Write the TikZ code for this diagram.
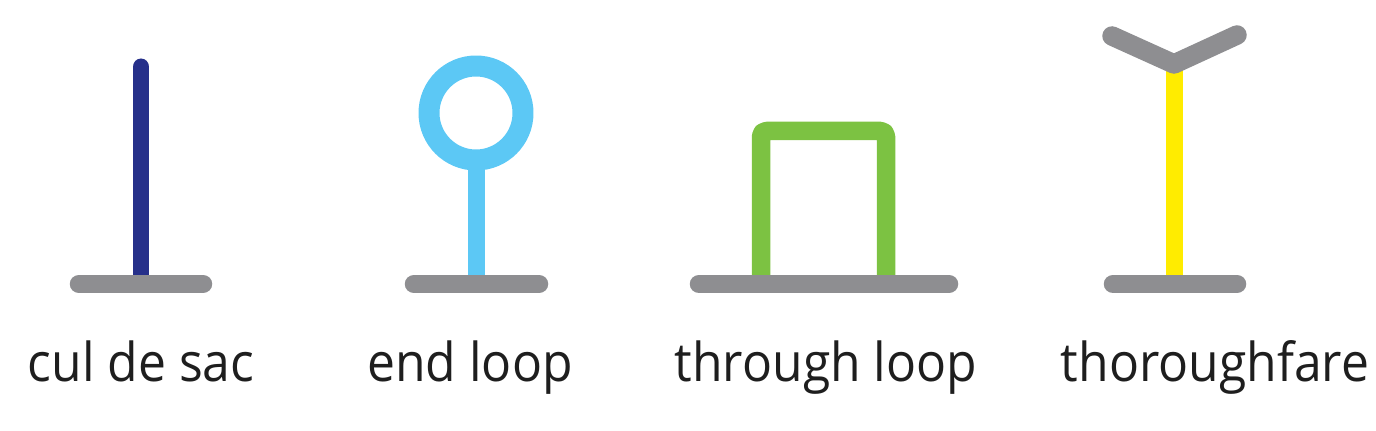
\documentclass[tikz,border=0pt]{standalone}
\usepackage{fontspec}
\setmainfont{Open Sans}[FakeStretch=0.93]
\usetikzlibrary{positioning}
\definecolor{roadgray}{RGB}{142,142,145}
\definecolor{sacblue}{RGB}{38,48,138}
\definecolor{loopblue}{RGB}{92,200,245}
\definecolor{loopgreen}{RGB}{124,194,66}
\definecolor{fareyellow}{RGB}{255,236,0}
\definecolor{captiongray}{RGB}{30,30,30}

\begin{document}
\begin{tikzpicture}[x=0.02cm,y=-0.02cm,line cap=round,line join=round,
    road/.style={line width=0.37cm,roadgray},
    street/.style={line width=0.34cm},
    caption/.style={anchor=base,inner sep=0pt,text=captiongray,
      font=\fontsize{30.5}{36}\selectfont}]
  \useasboundingbox (0,0) rectangle (1376,431);
  % cul de sac
  \coordinate (sacL) at (79,284);
  \coordinate (sacR) at (203,284);
  \coordinate (sacBase) at (141,284);
  \coordinate (sacTop) at (141,67);
  \draw[street,sacblue] (sacBase) -- (sacTop);
  \draw[road] (sacL) -- (sacR);
  \node[caption] (sac) at (141,382) {cul de sac};
  % end loop
  \coordinate (endL) at (414,284);
  \coordinate (endR) at (539,284);
  \coordinate (endBase) at (476,284);
  \coordinate (endRing) at (476,113);
  \draw[street,loopblue] (endBase) -- (476,159);
  \draw[street,loopblue,line width=0.42cm] (endRing) circle (47);
  \draw[road] (endL) -- (endR);
  \node[caption] (end) at (470,382) {end loop};
  % through loop
  \coordinate (thruL) at (699,284);
  \coordinate (thruR) at (949,284);
  \draw[street,loopgreen,line width=0.37cm,line cap=butt,rounded corners=3pt]
    (761,284) -- (761,131) -- (886,131) -- (886,284);
  \draw[road] (thruL) -- (thruR);
  \node[caption] (thru) at (826,382) {through loop};
  % thoroughfare
  \coordinate (fareL) at (1113,284);
  \coordinate (fareR) at (1237,284);
  \coordinate (fareBase) at (1174,284);
  \coordinate (fareFork) at (1174,64);
  \draw[street,fareyellow,line cap=butt] (fareBase) -- (fareFork);
  \draw[road,line width=0.39cm] (1112,36) -- (fareFork) -- (1237,35);
  \draw[road] (fareL) -- (fareR);
  \node[caption] (fare) at (1215,382) {thoroughfare};
\end{tikzpicture}
\end{document}
